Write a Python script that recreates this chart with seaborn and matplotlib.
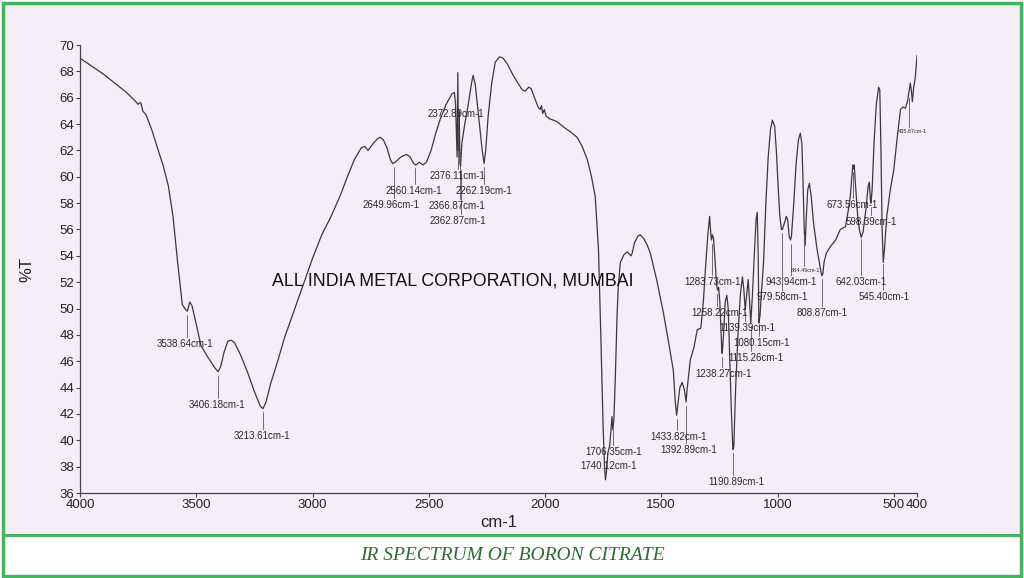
import numpy as np
import pandas as pd
import matplotlib
matplotlib.use("Agg")
import matplotlib.pyplot as plt
from matplotlib.patches import Rectangle
from matplotlib.lines import Line2D
import seaborn as sns

# ---------------- data ----------------
wavenumber = [
    4000, 3950, 3900, 3850, 3800, 3760, 3750, 3745, 3738, 3730, 3716, 3690, 3660, 3643, 3620,
    3600, 3580, 3560, 3545, 3538, 3528, 3518, 3500, 3480, 3450, 3420, 3406, 3395, 3380, 3365,
    3350, 3335, 3310, 3280, 3250, 3225, 3213, 3200, 3180, 3150, 3120, 3088, 3050, 3000, 2960,
    2940, 2920, 2900, 2880, 2850, 2820, 2790, 2775, 2761, 2740, 2720, 2709, 2695, 2680, 2665,
    2655, 2645, 2620, 2595, 2580, 2565, 2555, 2540, 2525, 2510, 2490, 2470, 2450, 2425, 2400,
    2390, 2385, 2378, 2375, 2372, 2369, 2366, 2363, 2358, 2345, 2330, 2315, 2309, 2300, 2285,
    2270, 2262, 2255, 2245, 2230, 2214, 2195, 2180, 2160, 2140, 2120, 2098, 2085, 2070, 2060,
    2045, 2030, 2021, 2015, 2010, 2003, 1995, 1980, 1950, 1922, 1890, 1862, 1840, 1818, 1800,
    1784, 1770, 1760, 1750, 1744, 1740, 1736, 1730, 1722, 1716, 1712, 1708, 1704, 1698, 1690,
    1685, 1676, 1660, 1646, 1630, 1625, 1615, 1600, 1590, 1575, 1560, 1547, 1520, 1491, 1470,
    1448, 1440, 1434, 1428, 1420, 1410, 1400, 1393, 1388, 1375, 1360, 1345, 1330, 1319, 1310,
    1300, 1292, 1286, 1284, 1280, 1275, 1268, 1262, 1258, 1253, 1248, 1240, 1238, 1232, 1225,
    1218, 1212, 1205, 1198, 1192, 1188, 1180, 1170, 1160, 1151, 1145, 1139, 1133, 1126, 1120,
    1115, 1108, 1100, 1092, 1087, 1083, 1080, 1075, 1068, 1060, 1050, 1040, 1030, 1022, 1012,
    1005, 998, 990, 983, 979, 970, 962, 956, 950, 944, 940, 930, 920, 910, 902,
    895, 890, 885, 881, 876, 870, 863, 855, 845, 830, 815, 810, 805, 800, 790,
    773, 750, 730, 720, 708, 695, 687, 680, 676, 673, 670, 665, 655, 648, 640,
    632, 620, 610, 605, 600, 598, 593, 585, 575, 565, 560, 555, 550, 545, 540,
    530, 515, 500, 485, 471, 460, 450, 440, 429, 424, 420, 414, 407, 400,
]
transmittance = [
    69.0, 68.4, 67.8, 67.1, 66.4, 65.7, 65.5, 65.6, 65.6, 65.0, 64.7, 63.5, 61.8, 60.9, 59.3,
    57.0, 53.5, 50.3, 49.9, 49.8, 50.5, 50.2, 48.8, 47.2, 46.3, 45.5, 45.2, 45.6, 46.7, 47.5,
    47.6, 47.4, 46.5, 45.2, 43.7, 42.6, 42.4, 42.9, 44.3, 46.0, 47.8, 49.4, 51.3, 53.8, 55.6,
    56.3, 57.0, 57.8, 58.6, 60.0, 61.3, 62.2, 62.3, 62.0, 62.5, 62.9, 63.0, 62.8, 62.2, 61.3,
    61.0, 61.1, 61.5, 61.7, 61.5, 61.0, 60.9, 61.1, 60.9, 61.1, 62.0, 63.3, 64.4, 65.5, 66.3,
    66.4, 65.6, 61.5, 67.9, 62.0, 65.0, 61.0, 60.8, 62.5, 64.0, 65.5, 67.2, 67.7, 67.0, 64.5,
    62.0, 61.0, 62.0, 64.5, 67.0, 68.7, 69.1, 69.0, 68.5, 67.8, 67.2, 66.6, 66.5, 66.8, 66.7,
    66.0, 65.3, 65.1, 65.4, 64.8, 65.1, 64.6, 64.4, 64.2, 63.8, 63.4, 63.0, 62.3, 61.3, 60.0,
    58.5, 54.5, 48.0, 41.0, 38.0, 37.0, 37.5, 39.0, 39.6, 40.8, 41.8, 40.8, 41.5, 44.5, 49.5,
    51.6, 53.5, 54.1, 54.3, 54.0, 54.2, 55.0, 55.5, 55.6, 55.3, 54.8, 54.2, 52.2, 49.7, 47.6,
    45.3, 43.0, 41.9, 42.8, 44.0, 44.4, 43.8, 42.9, 44.0, 46.1, 47.0, 48.4, 48.5, 50.5, 53.0,
    55.5, 57.0, 55.5, 55.2, 55.6, 55.3, 53.5, 51.8, 51.4, 51.6, 50.5, 47.0, 46.6, 48.0, 50.5,
    51.0, 50.0, 46.0, 42.0, 39.3, 39.5, 44.0, 48.0, 51.0, 52.4, 51.5, 49.9, 51.0, 52.2, 50.5,
    48.9, 51.0, 54.0, 56.8, 57.3, 54.0, 48.9, 49.5, 51.5, 53.5, 58.0, 61.5, 63.6, 64.3, 63.8,
    62.0, 59.5, 57.0, 56.0, 56.0, 56.5, 57.0, 56.7, 55.5, 55.2, 55.5, 58.0, 61.0, 62.8, 63.3,
    62.5, 59.5, 56.0, 54.8, 57.0, 59.0, 59.5, 58.5, 56.5, 54.5, 53.0, 52.5, 52.6, 53.5, 54.2,
    54.7, 55.2, 56.0, 56.1, 56.2, 57.5, 58.5, 60.0, 60.9, 60.6, 60.9, 59.5, 57.0, 56.0, 55.4,
    55.8, 57.5, 59.3, 59.6, 58.2, 58.0, 59.0, 62.5, 65.5, 66.8, 66.6, 62.0, 56.0, 53.5, 54.5,
    57.0, 59.0, 60.5, 63.0, 65.1, 65.3, 65.2, 65.8, 67.1, 66.5, 65.7, 66.8, 67.6, 69.2,
]

peak_labels = [
    "3538.64cm-1", "3406.18cm-1", "3213.61cm-1", "2649.96cm-1", "2560.14cm-1",
    "2376.11cm-1", "2372.89cm-1", "2366.87cm-1", "2362.87cm-1", "2262.19cm-1",
    "1706.35cm-1", "1740.12cm-1", "1433.82cm-1", "1392.89cm-1", "1190.89cm-1",
    "1238.27cm-1", "1115.26cm-1", "1080.15cm-1", "1139.39cm-1", "1258.22cm-1",
    "1283.73cm-1", "943.94cm-1", "979.58cm-1", "808.87cm-1", "884.49cm-1",
    "642.03cm-1", "545.40cm-1", "673.56cm-1", "598.39cm-1", "435.67cm-1",
]
peak_wn = [
    3538.64, 3406.18, 3213.61, 2649.96, 2560.14,
    2376.11, 2372.89, 2366.87, 2362.87, 2262.19,
    1706.35, 1740.12, 1433.82, 1392.89, 1190.89,
    1238.27, 1115.26, 1080.15, 1139.39, 1258.22,
    1283.73, 943.94, 979.58, 808.87, 884.49,
    642.03, 545.40, 673.56, 598.39, 435.67,
]

x_ticks = [4000, 3500, 3000, 2500, 2000, 1500, 1000, 500, 400]
y_ticks = list(range(36, 71, 2))

company = "ALL INDIA METAL CORPORATION, MUMBAI"
caption = "IR SPECTRUM OF BORON CITRATE"

# ---------------- label placement (layout) ----------------
label_x = [3548, 3410, 3217, 2662, 2563,
           2378, 2382, 2378, 2373, 2262,
           1706, 1728, 1427, 1384, 1177,
           1233, 1095, 1070, 1130, 1250,
           1280, 941, 979, 807, 880,
           639, 540, 678, 596, 420]
label_y = [47.31, 42.69, 40.33, 57.86, 58.92,
           60.06, 64.76, 57.78, 56.65, 58.92,
           39.12, 38.06, 40.26, 39.27, 36.84,
           45.04, 46.25, 47.39, 48.53, 49.67,
           52.02, 52.02, 50.88, 49.67, 52.85,
           52.02, 50.88, 57.86, 56.57, 63.40]
tiny = {"884.49cm-1", "435.67cm-1"}

# ---------------- figure ----------------
sns.set_theme(style="ticks")
plt.rcParams["font.family"] = ["Liberation Sans", "DejaVu Sans"]

W, H = 1024, 578
fig = plt.figure(figsize=(W / 100, H / 100), dpi=100)
fig.patch.set_facecolor("white")

pink = "#f5edf7"
green = "#45b35f"
# pink chart panel
fig.patches.append(Rectangle((3 / W, 1 - 535 / H), (W - 6) / W, 532 / H,
                             transform=fig.transFigure, facecolor=pink,
                             edgecolor="none", zorder=-10))
# green frame
fig.patches.append(Rectangle((3 / W, 2 / H), (W - 6) / W, (H - 5) / H,
                             transform=fig.transFigure, facecolor="none",
                             edgecolor=green, linewidth=2.5, zorder=5))
fig.lines.append(Line2D([3 / W, 1 - 3 / W], [1 - 535 / H, 1 - 535 / H],
                        transform=fig.transFigure, color=green, linewidth=2.2))

ax = fig.add_axes([80 / W, 1 - 493 / H, 837 / W, 448 / H])
ax.set_facecolor("none")

df = pd.DataFrame({"wn": wavenumber, "T": transmittance})
sns.lineplot(data=df, x="wn", y="T", sort=False, estimator=None,
             color="#3a3a3a", linewidth=0.9, ax=ax)

ax.set_xlim(4000, 400)
ax.set_ylim(36, 70)
ax.set_xticks(x_ticks)
ax.set_xticklabels([str(t) for t in x_ticks])
ax.set_yticks(y_ticks)
for sp in ["top", "right"]:
    ax.spines[sp].set_visible(False)
for sp in ["left", "bottom"]:
    ax.spines[sp].set_color("#444444")
    ax.spines[sp].set_linewidth(0.9)
ax.tick_params(axis="both", colors="#444444", labelcolor="#222222",
               labelsize=9.5, length=3, width=0.8, direction="out", pad=1)
ax.set_xlabel("cm-1", fontsize=12, color="#222222", labelpad=3)
ax.set_ylabel("%T", fontsize=12, color="#222222", labelpad=18)

# peak annotations
wn_arr = np.array(wavenumber)[::-1]
t_arr = np.array(transmittance)[::-1]
for lab, pw, lx, ly in zip(peak_labels, peak_wn, label_x, label_y):
    small = lab in tiny
    fs = 4 if small else 7
    cval = float(np.interp(pw, wn_arr, t_arr))
    half = 0.35 if small else 0.55
    if ly < cval:
        y0, y1 = cval - 0.3, ly + half
    else:
        y0, y1 = cval + 0.3, ly - half
    ax.plot([pw, pw], [y0, y1], color="#555555", linewidth=0.6)
    ax.text(lx, ly, lab, fontsize=fs, ha="center", va="center", color="#2a2a2a")

ax.text(3174, 52.09, company, fontsize=12.8, ha="left", va="center", color="#111111")

fig.text(0.5, 1 - 556 / H, caption, ha="center", va="center", fontsize=14,
         style="italic", color="#2f6b35", family=["Liberation Serif", "DejaVu Serif"])

fig.savefig("out.png", dpi=100, facecolor=fig.get_facecolor())
